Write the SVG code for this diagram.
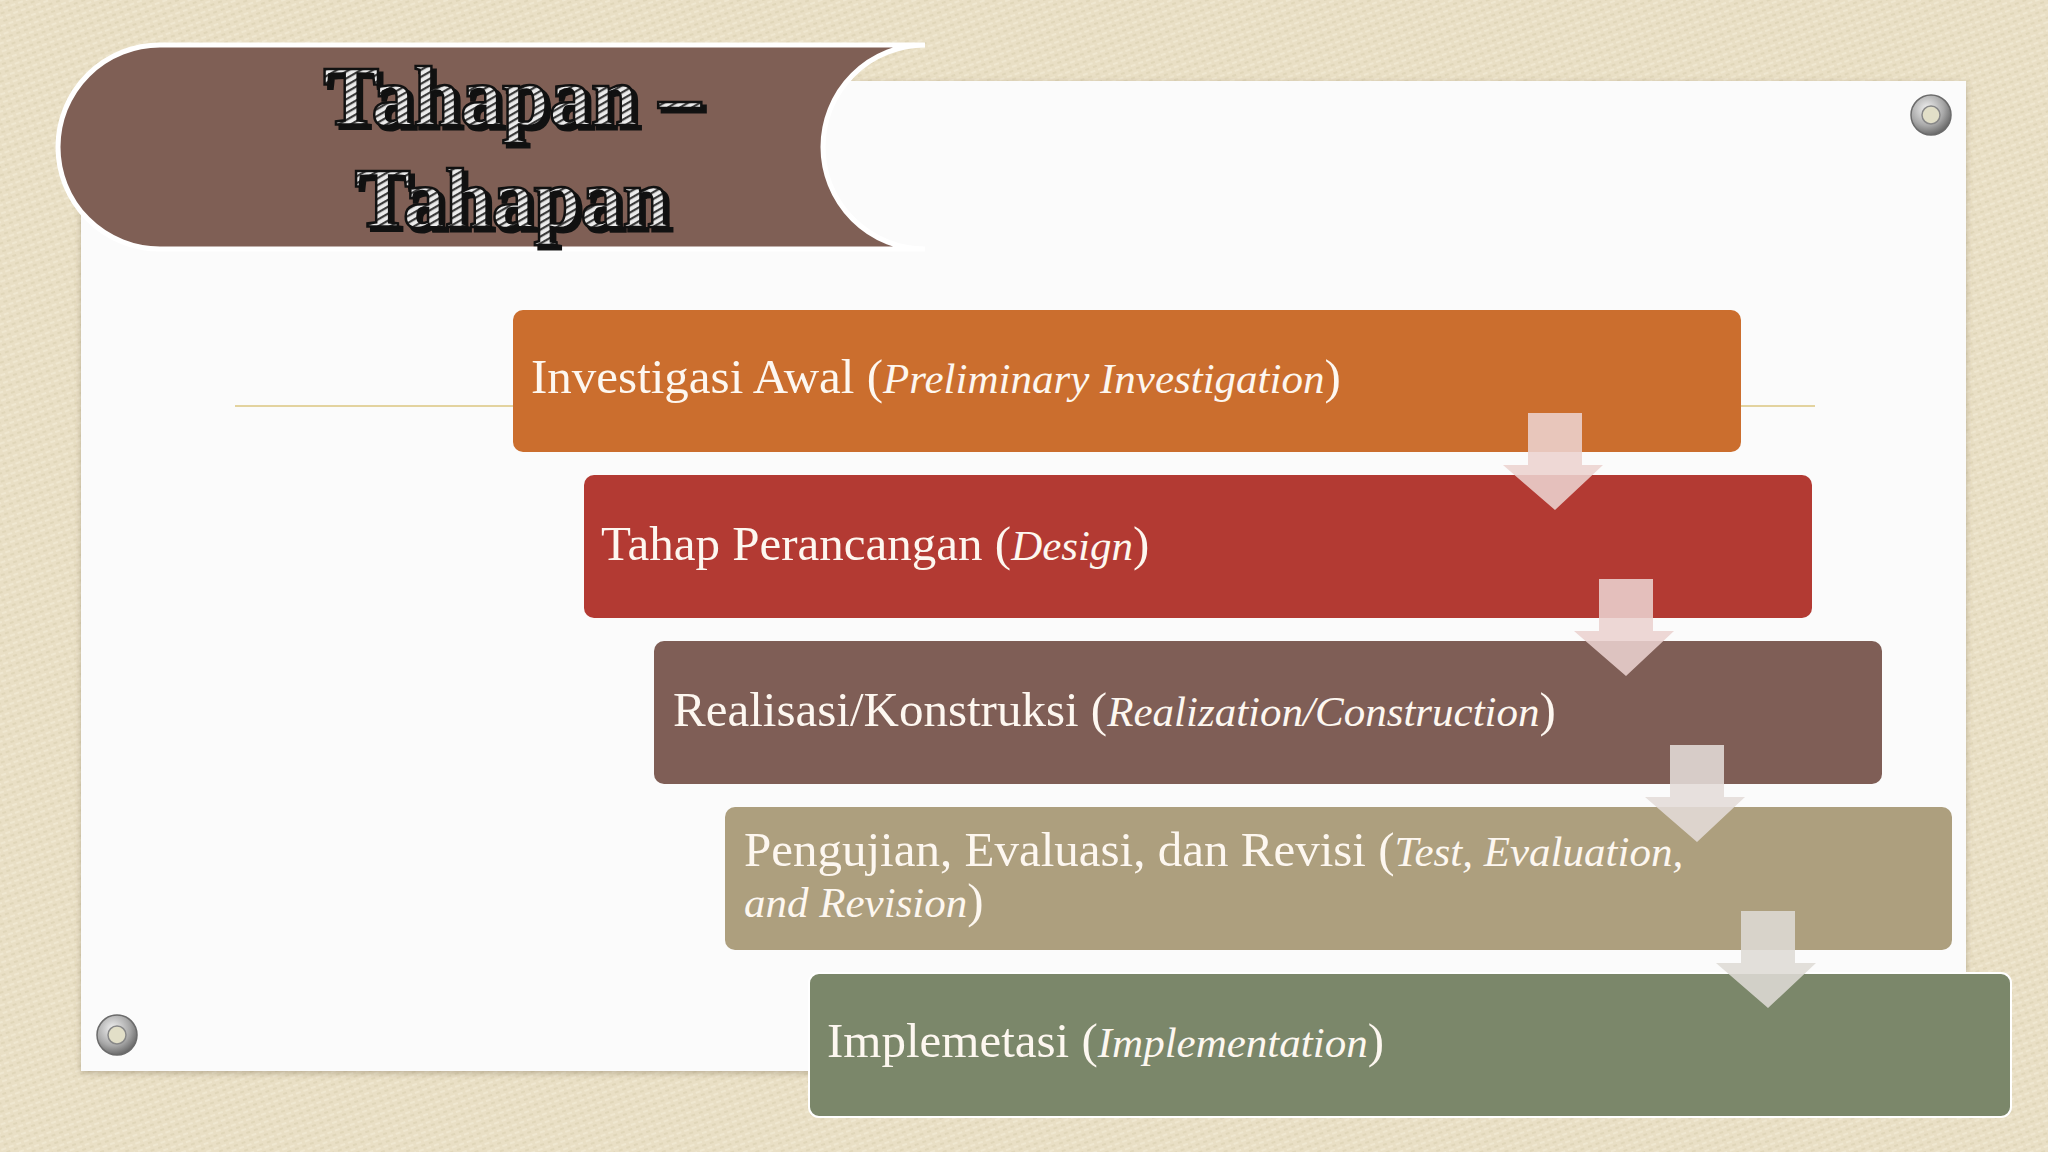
<svg xmlns="http://www.w3.org/2000/svg" width="2048" height="1152" viewBox="0 0 2048 1152">
  <defs>
    <pattern id="canvas" width="8" height="8" patternUnits="userSpaceOnUse" patternTransform="rotate(-20)">
      <rect width="8" height="8" fill="#e9dfc5"/>
      <rect x="0" y="0" width="5" height="2" fill="#efe7d0"/>
      <rect x="4" y="4" width="5" height="2" fill="#e0d6b9"/>
    </pattern>
    <pattern id="stripe" width="6" height="6" patternUnits="userSpaceOnUse" patternTransform="rotate(60)">
      <rect width="6" height="6" fill="#ececec"/>
      <rect width="2.2" height="6" fill="#3a3a3a"/>
    </pattern>
    <radialGradient id="grom" cx="0.4" cy="0.35" r="0.7">
      <stop offset="0" stop-color="#f2f2f2"/>
      <stop offset="0.6" stop-color="#a8a8a8"/>
      <stop offset="1" stop-color="#5e5e5e"/>
    </radialGradient>
    <filter id="shadow" x="-5%" y="-5%" width="110%" height="110%">
      <feDropShadow dx="0" dy="2" stdDeviation="3" flood-color="#7a6f55" flood-opacity="0.45"/>
    </filter>
    <style>
      .box-text { font-family: "Liberation Serif", "DejaVu Serif", serif; font-size: 49px; fill: #fdf7f0; }
      .it { font-style: italic; font-size: 43px; }
      .title { font-family: "Liberation Serif", "DejaVu Serif", serif; font-weight: bold; font-size: 84px; text-anchor: middle; }
      .arrow { opacity: 0.88; }
    </style>
  </defs>

  <!-- background -->
  <rect width="2048" height="1152" fill="url(#canvas)"/>
  <!-- paper -->
  <rect x="81" y="81" width="1885" height="990" fill="#fbfbfb" filter="url(#shadow)"/>

  <!-- grommets -->
  <g id="grommet-tr">
    <circle cx="1931" cy="115" r="20" fill="url(#grom)" stroke="#6b6b6b" stroke-width="1.5"/>
    <circle cx="1931" cy="115" r="9" fill="#e2dfc8" stroke="#888" stroke-width="1.5"/>
  </g>
  <g id="grommet-bl">
    <circle cx="117" cy="1035" r="20" fill="url(#grom)" stroke="#6b6b6b" stroke-width="1.5"/>
    <circle cx="117" cy="1035" r="9" fill="#e2dfc8" stroke="#888" stroke-width="1.5"/>
  </g>

  <!-- title -->
  <g id="title">
    <path d="M 160 45 H 925 A 102 102 0 0 0 925 249 H 160 A 102 102 0 0 1 160 45 Z" fill="#7f5f55" stroke="#ffffff" stroke-width="5"/>
    <g class="title">
      <text x="516" y="129" fill="#111" stroke="#111" stroke-width="3">Tahapan –</text>
      <text x="512" y="125" fill="url(#stripe)" stroke="#111" stroke-width="2.5">Tahapan –</text>
      <text x="516" y="231" fill="#111" stroke="#111" stroke-width="3">Tahapan</text>
      <text x="512" y="227" fill="url(#stripe)" stroke="#111" stroke-width="2.5">Tahapan</text>
    </g>
  </g>

  <!-- decorative line -->
  <line x1="235" y1="406" x2="1815" y2="406" stroke="#e3d39f" stroke-width="2"/>

  <!-- nodes -->
  <g id="node-1">
    <rect x="513" y="310" width="1228" height="142" rx="10" fill="#cb6e2e"/>
    <text class="box-text" x="531" y="393">Investigasi Awal (<tspan class="it">Preliminary Investigation</tspan>)</text>
  </g>
  <g id="node-2">
    <rect x="584" y="475" width="1228" height="143" rx="10" fill="#b33a33"/>
    <text class="box-text" x="601" y="560">Tahap Perancangan (<tspan class="it">Design</tspan>)</text>
  </g>
  <g id="node-3">
    <rect x="654" y="641" width="1228" height="143" rx="10" fill="#7f5e56"/>
    <text class="box-text" x="673" y="726">Realisasi/Konstruksi (<tspan class="it">Realization/Construction</tspan>)</text>
  </g>
  <g id="node-4">
    <rect x="725" y="807" width="1227" height="143" rx="10" fill="#ad9f7e"/>
    <text class="box-text" x="744" y="866">Pengujian, Evaluasi, dan Revisi (<tspan class="it">Test, Evaluation,</tspan></text>
    <text class="box-text" x="744" y="917"><tspan class="it">and Revision</tspan>)</text>
  </g>
  <g id="node-5">
    <rect x="809" y="973" width="1202" height="144" rx="10" fill="#7b876a" stroke="#ffffff" stroke-width="2"/>
    <text class="box-text" x="827" y="1057">Implemetasi (<tspan class="it">Implementation</tspan>)</text>
  </g>

  <!-- connectors -->
  <g id="connectors">
    <path class="arrow" d="M 1528 413 H 1582 V 465 H 1603 L 1555 510 L 1503 465 H 1528 Z" fill="#ecd3cf"/>
    <path class="arrow" d="M 1599 579 H 1653 V 631 H 1674 L 1626 676 L 1574 631 H 1599 Z" fill="#ead2cf"/>
    <path class="arrow" d="M 1670 745 H 1724 V 797 H 1745 L 1697 842 L 1645 797 H 1670 Z" fill="#e4dcd8"/>
    <path class="arrow" d="M 1741 911 H 1795 V 963 H 1816 L 1768 1008 L 1716 963 H 1741 Z" fill="#dedbd5"/>
  </g>
</svg>
